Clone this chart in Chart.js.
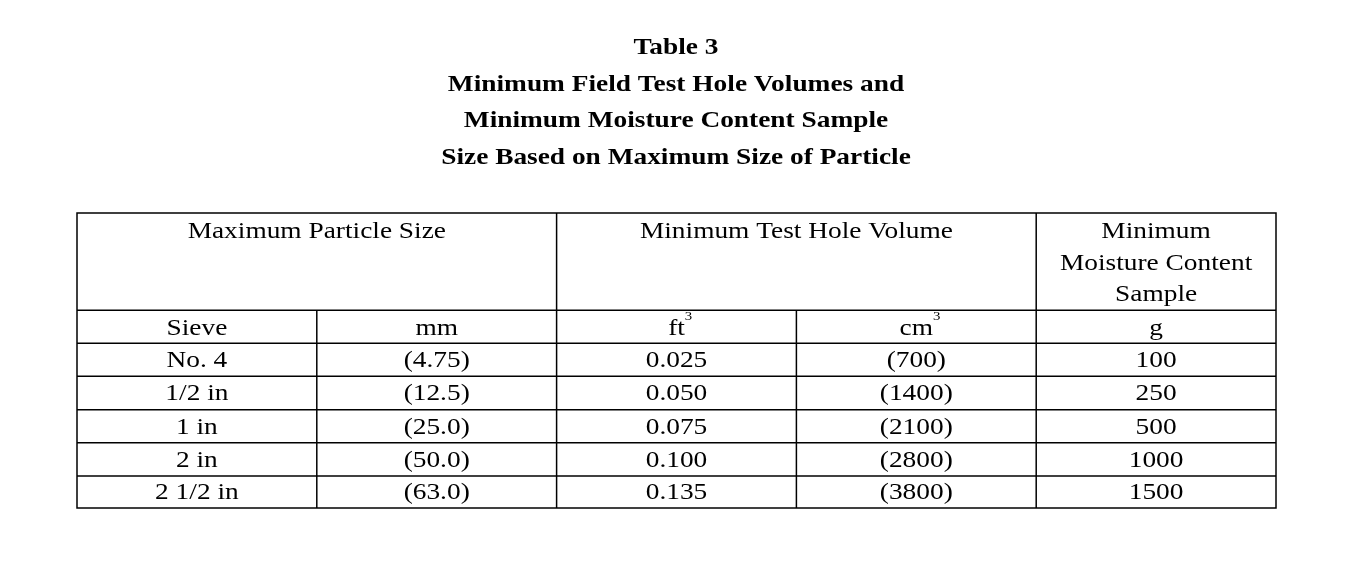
<!DOCTYPE html>
<html><head><meta charset="utf-8">
<script src="https://cdn.jsdelivr.net/npm/chart.js@4"></script>
<style>html,body{margin:0;background:#fff}#c{width:1360px;height:576px}</style>
</head><body><div id="c"><canvas id="cv" width="1360" height="576"></canvas></div>
<script>
const titleLines = ["Table 3","Minimum Field Test Hole Volumes and","Minimum Moisture Content Sample","Size Based on Maximum Size of Particle"];
const headerGroups = [
  {from:0,to:2,lines:["Maximum Particle Size"]},
  {from:2,to:4,lines:["Minimum Test Hole Volume"]},
  {from:4,to:5,lines:["Minimum","Moisture Content","Sample"]}
];
const unitLabels = ["Sieve","mm","ft","cm","g"];
const unitSup = ["","","3","3",""];
const sieves = ["No. 4","1/2 in","1 in","2 in","2 1/2 in"];
const mm = ["(4.75)","(12.5)","(25.0)","(50.0)","(63.0)"];
const ft3 = ["0.025","0.050","0.075","0.100","0.135"];
const cm3 = ["(700)","(1400)","(2100)","(2800)","(3800)"];
const grams = ["100","250","500","1000","1500"];
const rowEdges = [0,2.94,3.94,4.94,5.95,6.95,7.95,8.92];

const SX = 1.14;
function txt(ctx,s,x,y){ctx.save();ctx.translate(x,y);ctx.scale(SX,1);ctx.fillText(s,0,0);ctx.restore();}

const tablePlugin = {
  id:'table',
  afterDraw(chart){
    const ctx = chart.ctx, xs = chart.scales.x, ys = chart.scales.y;
    const X = v=>xs.getPixelForValue(v), Y = v=>ys.getPixelForValue(v);
    ctx.save();
    ctx.fillStyle='#000'; ctx.textAlign='center'; ctx.textBaseline='middle';
    ctx.font='bold 24px "Liberation Serif", "Times New Roman", serif';
    titleLines.forEach((t,i)=>txt(ctx,t,676,48+i*36.5));
    ctx.strokeStyle='#000'; ctx.lineWidth=1.5;
    ctx.strokeRect(X(0),Y(0),X(5)-X(0),Y(rowEdges[rowEdges.length-1])-Y(0));
    for(let i=1;i<rowEdges.length-1;i++){ctx.beginPath();ctx.moveTo(X(0),Y(rowEdges[i]));ctx.lineTo(X(5),Y(rowEdges[i]));ctx.stroke();}
    [2,4].forEach(c=>{ctx.beginPath();ctx.moveTo(X(c),Y(0));ctx.lineTo(X(c),Y(rowEdges[rowEdges.length-1]));ctx.stroke();});
    [1,3].forEach(c=>{ctx.beginPath();ctx.moveTo(X(c),Y(rowEdges[1]));ctx.lineTo(X(c),Y(rowEdges[rowEdges.length-1]));ctx.stroke();});
    const F='24px "Liberation Serif", "Times New Roman", serif';
    ctx.font=F;
    headerGroups.forEach(g=>{
      const cx=(X(g.from)+X(g.to))/2;
      g.lines.forEach((l,i)=>txt(ctx,l,cx,Y(0)+19+i*31.5));
    });
    const cy = r=>(Y(rowEdges[r+1])+Y(rowEdges[r+2]))/2;
    unitLabels.forEach((u,c)=>{
      const cx=(X(c)+X(c+1))/2, y=cy(0)+2;
      ctx.font=F;
      txt(ctx,u,cx,y);
      if(unitSup[c]){const w=ctx.measureText(u).width*SX;ctx.font='13px "Liberation Serif", serif';ctx.textAlign='left';txt(ctx,unitSup[c],cx+w/2,y-12);ctx.textAlign='center';}
    });
    ctx.font=F;
    const cols=[sieves,mm,ft3,cm3,grams];
    cols.forEach((col,c)=>col.forEach((v,r)=>txt(ctx,v,(X(c)+X(c+1))/2,cy(r+1)+1)));
    ctx.restore();
  }
};
new Chart(document.getElementById('cv'),{
  type:'scatter',
  data:{datasets:[{data:[]}]},
  options:{responsive:false,animation:false,
    layout:{padding:{left:77,right:84,top:213,bottom:68}},
    plugins:{legend:{display:false},tooltip:{enabled:false}},
    scales:{x:{type:'linear',min:0,max:5,display:false},y:{type:'linear',min:0,max:8.92,reverse:true,display:false}}
  },
  plugins:[tablePlugin]
});
</script></body></html>
